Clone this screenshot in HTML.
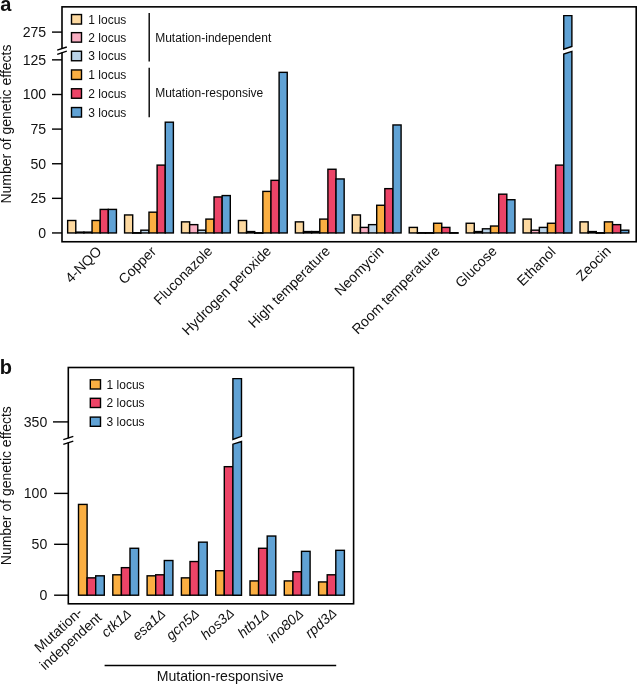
<!DOCTYPE html>
<html lang="en">
<head>
<meta charset="utf-8">
<title>Number of genetic effects</title>
<style>
html,body{margin:0;padding:0;background:#fff;}
body{width:637px;height:685px;overflow:hidden;}
svg{display:block;font-family:"Liberation Sans", Arial, Helvetica, sans-serif;fill:#000;}
svg text{fill:#111;}
</style>
</head>
<body>
<svg width="637" height="685" viewBox="0 0 637 685">
<rect x="0" y="0" width="637" height="685" fill="#fff"/>
<rect x="62" y="6.85" width="574.2" height="234.9" fill="none" stroke="#000" stroke-width="1.6"/>
<rect x="60.5" y="48.9" width="3" height="3.6" fill="#fff"/>
<line x1="57.2" y1="50.2" x2="66.8" y2="47" stroke="#000" stroke-width="1.4"/>
<line x1="57.2" y1="54.4" x2="66.8" y2="51.2" stroke="#000" stroke-width="1.4"/>
<line x1="52" y1="32.1" x2="62" y2="32.1" stroke="#000" stroke-width="1.4"/>
<text x="46.2" y="36.95" font-size="14.1" text-anchor="end">275</text>
<line x1="52" y1="59.85" x2="62" y2="59.85" stroke="#000" stroke-width="1.4"/>
<text x="46.2" y="64.7" font-size="14.1" text-anchor="end">125</text>
<line x1="52" y1="94.5" x2="62" y2="94.5" stroke="#000" stroke-width="1.4"/>
<text x="46.2" y="99.35" font-size="14.1" text-anchor="end">100</text>
<line x1="52" y1="129.1" x2="62" y2="129.1" stroke="#000" stroke-width="1.4"/>
<text x="46.2" y="133.95" font-size="14.1" text-anchor="end">75</text>
<line x1="52" y1="163.75" x2="62" y2="163.75" stroke="#000" stroke-width="1.4"/>
<text x="46.2" y="168.6" font-size="14.1" text-anchor="end">50</text>
<line x1="52" y1="198.35" x2="62" y2="198.35" stroke="#000" stroke-width="1.4"/>
<text x="46.2" y="203.2" font-size="14.1" text-anchor="end">25</text>
<line x1="52" y1="232.95" x2="62" y2="232.95" stroke="#000" stroke-width="1.4"/>
<text x="46.2" y="237.8" font-size="14.1" text-anchor="end">0</text>
<text transform="translate(10.7,124.1) rotate(-90)" font-size="14" text-anchor="middle" textLength="159" lengthAdjust="spacingAndGlyphs">Number of genetic effects</text>
<text x="0.3" y="11" font-size="20" font-weight="bold">a</text>
<rect x="67.65" y="220.49" width="8.13" height="12.46" fill="#FDD9A0" stroke="#000" stroke-width="1.4"/>
<rect x="75.78" y="232.12" width="8.13" height="0.83" fill="#F9AEC2" stroke="#000" stroke-width="1.4"/>
<rect x="83.92" y="232.12" width="8.13" height="0.83" fill="#BAD3E8" stroke="#000" stroke-width="1.4"/>
<rect x="92.05" y="220.49" width="8.13" height="12.46" fill="#FBAF42" stroke="#000" stroke-width="1.4"/>
<rect x="100.18" y="209.41" width="8.13" height="23.54" fill="#EC4467" stroke="#000" stroke-width="1.4"/>
<rect x="108.31" y="209.41" width="8.13" height="23.54" fill="#60A2D5" stroke="#000" stroke-width="1.4"/>
<text transform="translate(102.57,252.12) rotate(-45)" font-size="14.1" text-anchor="end">4-NQO</text>
<rect x="124.58" y="214.95" width="8.13" height="18" fill="#FDD9A0" stroke="#000" stroke-width="1.4"/>
<line x1="132.01" y1="232.95" x2="141.55" y2="232.95" stroke="#000" stroke-width="1.95" stroke-linecap="butt"/>
<rect x="140.85" y="230.18" width="8.13" height="2.77" fill="#BAD3E8" stroke="#000" stroke-width="1.4"/>
<rect x="148.98" y="212.18" width="8.13" height="20.77" fill="#FBAF42" stroke="#000" stroke-width="1.4"/>
<rect x="157.11" y="165.11" width="8.13" height="67.84" fill="#EC4467" stroke="#000" stroke-width="1.4"/>
<rect x="165.25" y="122.19" width="8.13" height="110.76" fill="#60A2D5" stroke="#000" stroke-width="1.4"/>
<text transform="translate(156.98,252.32) rotate(-45)" font-size="14.1" text-anchor="end">Copper</text>
<rect x="181.51" y="221.87" width="8.13" height="11.08" fill="#FDD9A0" stroke="#000" stroke-width="1.4"/>
<rect x="189.64" y="224.64" width="8.13" height="8.31" fill="#F9AEC2" stroke="#000" stroke-width="1.4"/>
<rect x="197.78" y="230.18" width="8.13" height="2.77" fill="#BAD3E8" stroke="#000" stroke-width="1.4"/>
<rect x="205.91" y="219.1" width="8.13" height="13.85" fill="#FBAF42" stroke="#000" stroke-width="1.4"/>
<rect x="214.04" y="196.95" width="8.13" height="36" fill="#EC4467" stroke="#000" stroke-width="1.4"/>
<rect x="222.17" y="195.57" width="8.13" height="37.38" fill="#60A2D5" stroke="#000" stroke-width="1.4"/>
<text transform="translate(213.19,251.97) rotate(-45)" font-size="14.1" text-anchor="end">Fluconazole</text>
<rect x="238.44" y="220.49" width="8.13" height="12.46" fill="#FDD9A0" stroke="#000" stroke-width="1.4"/>
<rect x="246.57" y="231.57" width="8.13" height="1.38" fill="#F9AEC2" stroke="#000" stroke-width="1.4"/>
<line x1="254.01" y1="232.95" x2="263.54" y2="232.95" stroke="#000" stroke-width="1.95" stroke-linecap="butt"/>
<rect x="262.84" y="191.41" width="8.13" height="41.54" fill="#FBAF42" stroke="#000" stroke-width="1.4"/>
<rect x="270.97" y="180.34" width="8.13" height="52.61" fill="#EC4467" stroke="#000" stroke-width="1.4"/>
<rect x="279.11" y="72.35" width="8.13" height="160.6" fill="#60A2D5" stroke="#000" stroke-width="1.4"/>
<text transform="translate(271.99,251.87) rotate(-45)" font-size="14.1" text-anchor="end">Hydrogen peroxide</text>
<rect x="295.37" y="221.87" width="8.13" height="11.08" fill="#FDD9A0" stroke="#000" stroke-width="1.4"/>
<rect x="303.5" y="231.57" width="8.13" height="1.38" fill="#F9AEC2" stroke="#000" stroke-width="1.4"/>
<rect x="311.64" y="231.57" width="8.13" height="1.38" fill="#BAD3E8" stroke="#000" stroke-width="1.4"/>
<rect x="319.77" y="219.1" width="8.13" height="13.85" fill="#FBAF42" stroke="#000" stroke-width="1.4"/>
<rect x="327.9" y="169.26" width="8.13" height="63.69" fill="#EC4467" stroke="#000" stroke-width="1.4"/>
<rect x="336.03" y="178.95" width="8.13" height="54" fill="#60A2D5" stroke="#000" stroke-width="1.4"/>
<text transform="translate(331.12,251.85) rotate(-45)" font-size="14.1" text-anchor="end">High temperature</text>
<rect x="352.3" y="214.95" width="8.13" height="18" fill="#FDD9A0" stroke="#000" stroke-width="1.4"/>
<rect x="360.43" y="227.41" width="8.13" height="5.54" fill="#F9AEC2" stroke="#000" stroke-width="1.4"/>
<rect x="368.57" y="224.64" width="8.13" height="8.31" fill="#BAD3E8" stroke="#000" stroke-width="1.4"/>
<rect x="376.7" y="205.26" width="8.13" height="27.69" fill="#FBAF42" stroke="#000" stroke-width="1.4"/>
<rect x="384.83" y="188.65" width="8.13" height="44.3" fill="#EC4467" stroke="#000" stroke-width="1.4"/>
<rect x="392.96" y="124.96" width="8.13" height="107.99" fill="#60A2D5" stroke="#000" stroke-width="1.4"/>
<text transform="translate(384.6,252.07) rotate(-45)" font-size="14.1" text-anchor="end">Neomycin</text>
<rect x="409.23" y="227.41" width="8.13" height="5.54" fill="#FDD9A0" stroke="#000" stroke-width="1.4"/>
<line x1="416.66" y1="232.95" x2="426.2" y2="232.95" stroke="#000" stroke-width="1.95" stroke-linecap="butt"/>
<line x1="424.8" y1="232.95" x2="434.33" y2="232.95" stroke="#000" stroke-width="1.95" stroke-linecap="butt"/>
<rect x="433.63" y="223.26" width="8.13" height="9.69" fill="#FBAF42" stroke="#000" stroke-width="1.4"/>
<rect x="441.76" y="227.41" width="8.13" height="5.54" fill="#EC4467" stroke="#000" stroke-width="1.4"/>
<line x1="449.19" y1="232.95" x2="458.73" y2="232.95" stroke="#000" stroke-width="1.95" stroke-linecap="butt"/>
<text transform="translate(440.73,252) rotate(-45)" font-size="14.1" text-anchor="end">Room temperature</text>
<rect x="466.16" y="223.26" width="8.13" height="9.69" fill="#FDD9A0" stroke="#000" stroke-width="1.4"/>
<rect x="474.29" y="231.57" width="8.13" height="1.38" fill="#F9AEC2" stroke="#000" stroke-width="1.4"/>
<rect x="482.43" y="228.8" width="8.13" height="4.15" fill="#BAD3E8" stroke="#000" stroke-width="1.4"/>
<rect x="490.56" y="226.03" width="8.13" height="6.92" fill="#FBAF42" stroke="#000" stroke-width="1.4"/>
<rect x="498.69" y="194.18" width="8.13" height="38.77" fill="#EC4467" stroke="#000" stroke-width="1.4"/>
<rect x="506.82" y="199.72" width="8.13" height="33.23" fill="#60A2D5" stroke="#000" stroke-width="1.4"/>
<text transform="translate(497.68,251.93) rotate(-45)" font-size="14.1" text-anchor="end">Glucose</text>
<rect x="523.09" y="219.1" width="8.13" height="13.85" fill="#FDD9A0" stroke="#000" stroke-width="1.4"/>
<rect x="531.22" y="230.18" width="8.13" height="2.77" fill="#F9AEC2" stroke="#000" stroke-width="1.4"/>
<rect x="539.36" y="227.41" width="8.13" height="5.54" fill="#BAD3E8" stroke="#000" stroke-width="1.4"/>
<rect x="547.49" y="223.26" width="8.13" height="9.69" fill="#FBAF42" stroke="#000" stroke-width="1.4"/>
<rect x="555.62" y="165.11" width="8.13" height="67.84" fill="#EC4467" stroke="#000" stroke-width="1.4"/>
<polygon points="563.75,232.95 563.75,54 571.89,51.4 571.89,232.95" fill="#60A2D5" stroke="#000" stroke-width="1.4" stroke-linejoin="miter"/>
<polygon points="563.75,49.2 563.75,15.6 571.89,15.6 571.89,46.4" fill="#60A2D5" stroke="#000" stroke-width="1.4"/>
<text transform="translate(556.54,252.82) rotate(-45)" font-size="14.1" text-anchor="end">Ethanol</text>
<rect x="580.02" y="221.87" width="8.13" height="11.08" fill="#FDD9A0" stroke="#000" stroke-width="1.4"/>
<rect x="588.15" y="231.57" width="8.13" height="1.38" fill="#F9AEC2" stroke="#000" stroke-width="1.4"/>
<line x1="595.59" y1="232.95" x2="605.12" y2="232.95" stroke="#000" stroke-width="1.95" stroke-linecap="butt"/>
<rect x="604.42" y="221.87" width="8.13" height="11.08" fill="#FBAF42" stroke="#000" stroke-width="1.4"/>
<rect x="612.55" y="224.64" width="8.13" height="8.31" fill="#EC4467" stroke="#000" stroke-width="1.4"/>
<rect x="620.68" y="230.18" width="8.13" height="2.77" fill="#60A2D5" stroke="#000" stroke-width="1.4"/>
<text transform="translate(611.8,251.85) rotate(-45)" font-size="14.1" text-anchor="end">Zeocin</text>
<rect x="71.5" y="14.55" width="10" height="9.5" fill="#FDD9A0" stroke="#000" stroke-width="1.4"/>
<text x="88.3" y="23.6" font-size="12">1 locus</text>
<rect x="71.5" y="32.65" width="10" height="9.5" fill="#F9AEC2" stroke="#000" stroke-width="1.4"/>
<text x="88.3" y="41.7" font-size="12">2 locus</text>
<rect x="71.5" y="51.25" width="10" height="9.5" fill="#BAD3E8" stroke="#000" stroke-width="1.4"/>
<text x="88.3" y="60.3" font-size="12">3 locus</text>
<rect x="71.5" y="69.95" width="10" height="9.5" fill="#FBAF42" stroke="#000" stroke-width="1.4"/>
<text x="88.3" y="79" font-size="12">1 locus</text>
<rect x="71.5" y="88.75" width="10" height="9.5" fill="#EC4467" stroke="#000" stroke-width="1.4"/>
<text x="88.3" y="97.8" font-size="12">2 locus</text>
<rect x="71.5" y="107.55" width="10" height="9.5" fill="#60A2D5" stroke="#000" stroke-width="1.4"/>
<text x="88.3" y="116.6" font-size="12">3 locus</text>
<line x1="149.2" y1="13" x2="149.2" y2="61.5" stroke="#000" stroke-width="1.4"/>
<line x1="149.2" y1="67.8" x2="149.2" y2="117.3" stroke="#000" stroke-width="1.4"/>
<text x="155.2" y="41.5" font-size="12">Mutation-independent</text>
<text x="155.2" y="96.5" font-size="12">Mutation-responsive</text>
<rect x="68.3" y="367.5" width="285.3" height="236.3" fill="none" stroke="#000" stroke-width="1.6"/>
<rect x="66.8" y="438.3" width="3" height="4.1" fill="#fff"/>
<line x1="63.3" y1="439.6" x2="73.3" y2="436.4" stroke="#000" stroke-width="1.4"/>
<line x1="63.3" y1="444.3" x2="73.3" y2="441.1" stroke="#000" stroke-width="1.4"/>
<line x1="53.0" y1="421.9" x2="68.3" y2="421.9" stroke="#000" stroke-width="1.4"/>
<text x="47.3" y="426.75" font-size="14.1" text-anchor="end">350</text>
<line x1="54.1" y1="493.4" x2="68.3" y2="493.4" stroke="#000" stroke-width="1.4"/>
<text x="47.3" y="498.25" font-size="14.1" text-anchor="end">100</text>
<line x1="54.1" y1="544.3" x2="68.3" y2="544.3" stroke="#000" stroke-width="1.4"/>
<text x="47.3" y="549.15" font-size="14.1" text-anchor="end">50</text>
<line x1="54.1" y1="595.2" x2="68.3" y2="595.2" stroke="#000" stroke-width="1.4"/>
<text x="47.3" y="600.05" font-size="14.1" text-anchor="end">0</text>
<text transform="translate(10.7,485.7) rotate(-90)" font-size="14" text-anchor="middle" textLength="159" lengthAdjust="spacingAndGlyphs">Number of genetic effects</text>
<text x="-0.3" y="373.7" font-size="20" font-weight="bold">b</text>
<rect x="78.5" y="504.42" width="8.6" height="90.78" fill="#FBAF42" stroke="#000" stroke-width="1.4"/>
<rect x="87.1" y="577.86" width="8.6" height="17.34" fill="#EC4467" stroke="#000" stroke-width="1.4"/>
<rect x="95.7" y="575.82" width="8.6" height="19.38" fill="#60A2D5" stroke="#000" stroke-width="1.4"/>
<text transform="translate(83.35,613.88) rotate(-42)" font-size="14.1" text-anchor="end">Mutation-</text>
<text transform="translate(102.75,618.85) rotate(-42)" font-size="14.1" text-anchor="end">independent</text>
<rect x="112.8" y="574.8" width="8.6" height="20.4" fill="#FBAF42" stroke="#000" stroke-width="1.4"/>
<rect x="121.4" y="567.66" width="8.6" height="27.54" fill="#EC4467" stroke="#000" stroke-width="1.4"/>
<rect x="130" y="548.28" width="8.6" height="46.92" fill="#60A2D5" stroke="#000" stroke-width="1.4"/>
<text transform="translate(132.1,615) rotate(-42)" font-size="14.1" text-anchor="end"><tspan font-style="italic">ctk1</tspan><tspan font-style="italic" font-size="12.6">Δ</tspan></text>
<rect x="147.1" y="575.82" width="8.6" height="19.38" fill="#FBAF42" stroke="#000" stroke-width="1.4"/>
<rect x="155.7" y="574.8" width="8.6" height="20.4" fill="#EC4467" stroke="#000" stroke-width="1.4"/>
<rect x="164.3" y="560.52" width="8.6" height="34.68" fill="#60A2D5" stroke="#000" stroke-width="1.4"/>
<text transform="translate(166.4,615.05) rotate(-42)" font-size="14.1" text-anchor="end"><tspan font-style="italic">esa1</tspan><tspan font-style="italic" font-size="12.6">Δ</tspan></text>
<rect x="181.4" y="577.86" width="8.6" height="17.34" fill="#FBAF42" stroke="#000" stroke-width="1.4"/>
<rect x="190" y="561.54" width="8.6" height="33.66" fill="#EC4467" stroke="#000" stroke-width="1.4"/>
<rect x="198.6" y="542.16" width="8.6" height="53.04" fill="#60A2D5" stroke="#000" stroke-width="1.4"/>
<text transform="translate(200.15,614.93) rotate(-42)" font-size="14.1" text-anchor="end"><tspan font-style="italic">gcn5</tspan><tspan font-style="italic" font-size="12.6">Δ</tspan></text>
<rect x="215.7" y="570.72" width="8.6" height="24.48" fill="#FBAF42" stroke="#000" stroke-width="1.4"/>
<rect x="224.3" y="466.68" width="8.6" height="128.52" fill="#EC4467" stroke="#000" stroke-width="1.4"/>
<polygon points="232.9,595.2 232.9,444.2 241.5,441.5 241.5,595.2" fill="#60A2D5" stroke="#000" stroke-width="1.4"/>
<polygon points="232.9,439.5 232.9,378.6 241.5,378.6 241.5,436.3" fill="#60A2D5" stroke="#000" stroke-width="1.4"/>
<text transform="translate(234.98,614.45) rotate(-42)" font-size="14.1" text-anchor="end"><tspan font-style="italic">hos3</tspan><tspan font-style="italic" font-size="12.6">Δ</tspan></text>
<rect x="250" y="580.92" width="8.6" height="14.28" fill="#FBAF42" stroke="#000" stroke-width="1.4"/>
<rect x="258.6" y="548.28" width="8.6" height="46.92" fill="#EC4467" stroke="#000" stroke-width="1.4"/>
<rect x="267.2" y="536.04" width="8.6" height="59.16" fill="#60A2D5" stroke="#000" stroke-width="1.4"/>
<text transform="translate(269.7,614.85) rotate(-42)" font-size="14.1" text-anchor="end"><tspan font-style="italic">htb1</tspan><tspan font-style="italic" font-size="12.6">Δ</tspan></text>
<rect x="284.3" y="580.92" width="8.6" height="14.28" fill="#FBAF42" stroke="#000" stroke-width="1.4"/>
<rect x="292.9" y="571.74" width="8.6" height="23.46" fill="#EC4467" stroke="#000" stroke-width="1.4"/>
<rect x="301.5" y="551.34" width="8.6" height="43.86" fill="#60A2D5" stroke="#000" stroke-width="1.4"/>
<text transform="translate(304.2,615) rotate(-42)" font-size="14.1" text-anchor="end"><tspan font-style="italic">ino80</tspan><tspan font-style="italic" font-size="12.6">Δ</tspan></text>
<rect x="318.6" y="581.94" width="8.6" height="13.26" fill="#FBAF42" stroke="#000" stroke-width="1.4"/>
<rect x="327.2" y="574.8" width="8.6" height="20.4" fill="#EC4467" stroke="#000" stroke-width="1.4"/>
<rect x="335.8" y="550.32" width="8.6" height="44.88" fill="#60A2D5" stroke="#000" stroke-width="1.4"/>
<text transform="translate(337.6,614.25) rotate(-42)" font-size="14.1" text-anchor="end"><tspan font-style="italic">rpd3</tspan><tspan font-style="italic" font-size="12.6">Δ</tspan></text>
<rect x="90.3" y="379.8" width="10.2" height="9.2" fill="#FBAF42" stroke="#000" stroke-width="1.4"/>
<text x="106.6" y="388.7" font-size="12">1 locus</text>
<rect x="90.3" y="398.3" width="10.2" height="9.2" fill="#EC4467" stroke="#000" stroke-width="1.4"/>
<text x="106.6" y="407.2" font-size="12">2 locus</text>
<rect x="90.3" y="417.1" width="10.2" height="9.2" fill="#60A2D5" stroke="#000" stroke-width="1.4"/>
<text x="106.6" y="426" font-size="12">3 locus</text>
<line x1="104.6" y1="665.5" x2="336.2" y2="665.5" stroke="#000" stroke-width="1.4"/>
<text x="220.1" y="681.4" font-size="14.1" text-anchor="middle">Mutation-responsive</text>
</svg>
</body>
</html>
